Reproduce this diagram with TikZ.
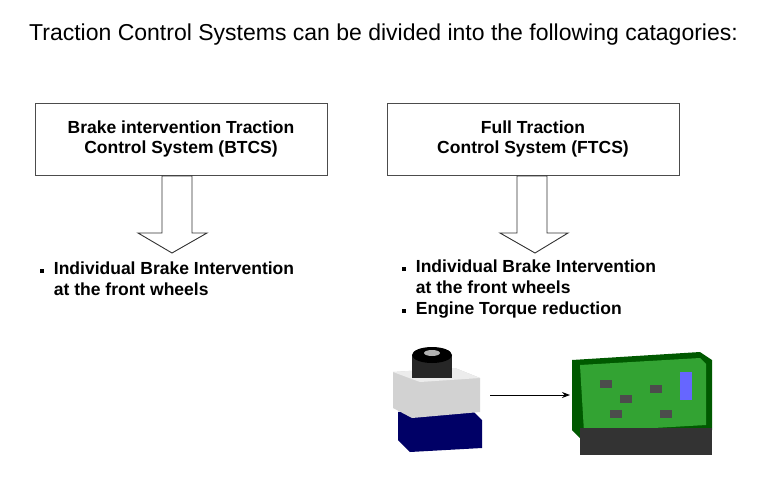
\documentclass[tikz,border=0pt]{standalone}
\usepackage{fontspec}
\setmainfont{Liberation Sans}
\usetikzlibrary{arrows.meta}
\newcommand{\sqb}{\raisebox{0.25ex}{\rule{4pt}{4pt}}}
\begin{document}
\begin{tikzpicture}[x=1pt,y=-1pt,
  box/.style={draw=black!70,line width=0.8pt,fill=white,minimum width=292pt,minimum height=72pt,align=center,font=\bfseries\fontsize{17.5}{20.5}\selectfont},
  bul/.style={anchor=west,align=left,font=\bfseries\fontsize{17.5}{21}\selectfont},
  harrow/.style={draw=black!80,line width=0.9pt,fill=white}]
\useasboundingbox (0,0) rectangle (768,496);
\fill[white] (0,0) rectangle (768,496);
\node[anchor=west,font=\fontsize{23}{26}\selectfont,inner sep=0] (title) at (29,35) {Traction Control Systems can be divided into the following catagories:};
\node[box] (b1) at (181,139) {Brake intervention Traction\\Control System (BTCS)};
\node[box] (b2) at (533,139) {Full Traction\\Control System (FTCS)};
\draw[harrow] (162,176) -- (192,176) -- (192,233) -- (207,233) -- (172,253) -- (138,233) -- (162,233) -- cycle;
\draw[harrow] (517,176) -- (547,176) -- (547,233) -- (568,233) -- (535,253) -- (500,233) -- (517,233) -- cycle;
\node[bul,anchor=north west,inner sep=0] (l1) at (40,262) {\sqb\ \ Individual Brake Intervention\\\phantom{\sqb\ \ }at the front wheels};
\node[bul,anchor=north west,inner sep=0] (l2) at (402,260) {\sqb\ \ Individual Brake Intervention\\\phantom{\sqb\ \ }at the front wheels\\\sqb\ \ Engine Torque reduction};
% ABS unit
\fill[blue!40!black] (398,412) -- (470,408) -- (482,420) -- (482,448) -- (410,452) -- (398,440) -- cycle;
\fill[gray!35] (393,372) -- (455,368) -- (480,378) -- (480,412) -- (412,418) -- (393,408) -- cycle;
\fill[gray!15] (393,372) -- (455,368) -- (480,378) -- (420,382) -- cycle;
\fill[black!85] (412,355) rectangle (452,378);
\fill[black] (432,355) ellipse (20 and 8);
\fill[gray!60] (432,353) ellipse (8 and 3);
\coordinate (absR) at (490,395);
% ECU
\fill[green!35!black] (572,360) -- (700,352) -- (712,360) -- (712,430) -- (580,438) -- (572,430) -- cycle;
\fill[green!55!black!80] (580,365) -- (700,358) -- (706,364) -- (706,425) -- (584,432) -- cycle;
\fill[black!80] (580,428) rectangle (712,455);
\fill[blue!60] (680,372) rectangle (692,400);
\foreach \x/\y in {600/380,620/395,650/385,660/410,610/410} \fill[black!70] (\x,\y) rectangle ++(12,8);
\coordinate (ecuL) at (570,395);
\draw[-{Stealth[length=8pt]},line width=1pt] (absR) -- (ecuL);
\end{tikzpicture}
\end{document}
